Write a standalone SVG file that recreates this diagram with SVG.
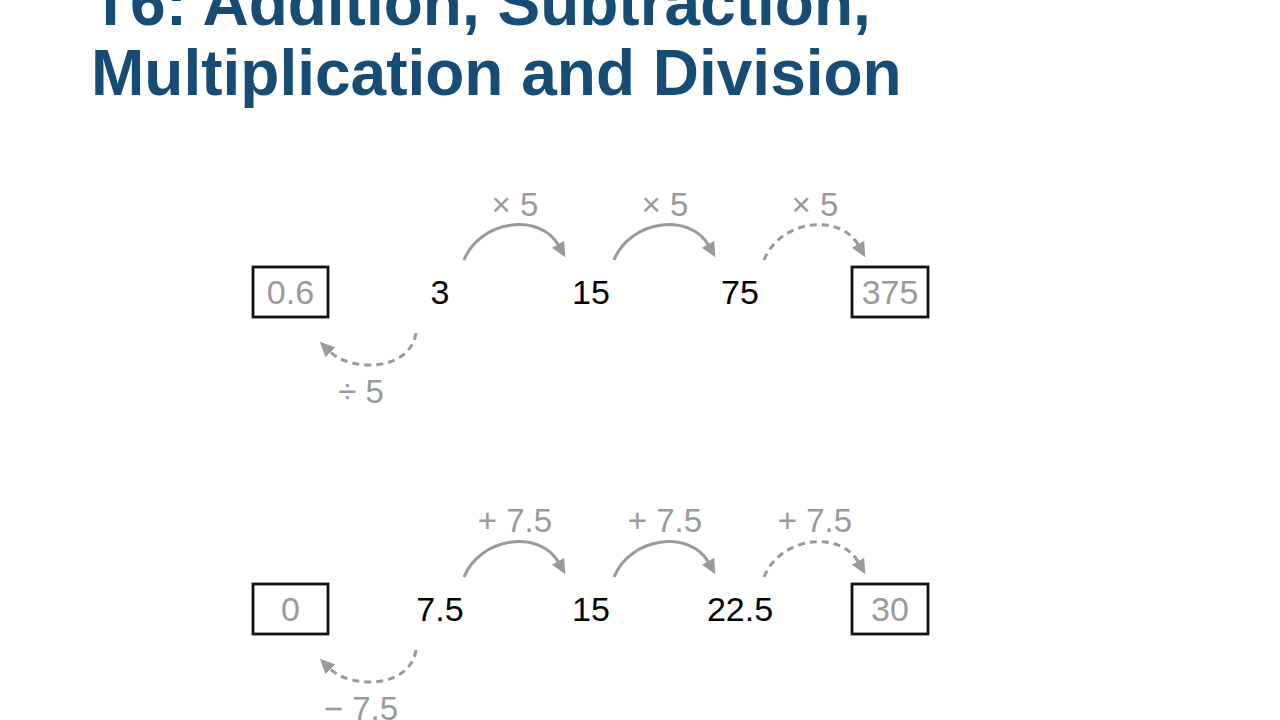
<svg xmlns="http://www.w3.org/2000/svg" width="1280" height="720" viewBox="0 0 1280 720">
<defs>
<style>
.title{font-family:"Liberation Sans",Arial,sans-serif;font-weight:bold;font-size:64px;fill:#174c74}
.num{font-family:"Liberation Sans",Arial,sans-serif;font-size:34px;fill:#000;text-anchor:middle}
.ans{font-family:"Liberation Sans",Arial,sans-serif;font-size:34px;fill:#9a9a9a;text-anchor:middle}
.lbl{font-family:"Liberation Sans",Arial,sans-serif;font-size:33px;fill:#9a9a9a;text-anchor:middle}
.box{fill:#fff;stroke:#111;stroke-width:2.8}
.arc{fill:none;stroke:#9a9a9a;stroke-width:3;marker-end:url(#ah)}
.dash{stroke-dasharray:7 5}
</style>
<marker id="ah" markerUnits="userSpaceOnUse" markerWidth="16" markerHeight="16" refX="2" refY="8" orient="auto">
<path d="M0,1 L15,8 L0,15 Z" fill="#9a9a9a"/>
</marker>
</defs>
<rect width="1280" height="720" fill="#fff"/>
<g id="title">
<text class="title" x="91" y="25">T6: Addition, Subtraction,</text>
<text class="title" x="91" y="95">Multiplication and Division</text>
</g>
<g id="connectors">
<path class="arc" d="M464 260 C480 220 540 212 559 246"/>
<path class="arc" d="M614 260 C630 220 690 212 709 246"/>
<path class="arc dash" d="M764 260 C780 220 840 212 859 246"/>
<path class="arc dash" d="M416 333 C410 372 350 372 329 351"/>
<path class="arc" d="M464 577 C480 537 540 529 559 563"/>
<path class="arc" d="M614 577 C630 537 690 529 709 563"/>
<path class="arc dash" d="M764 577 C780 537 840 529 859 563"/>
<path class="arc dash" d="M416 650 C410 689 350 689 329 668"/>
</g>
<g id="labels">
<text class="lbl" x="515" y="216">× 5</text>
<text class="lbl" x="665" y="216">× 5</text>
<text class="lbl" x="815" y="216">× 5</text>
<text class="lbl" x="361" y="403">÷ 5</text>
<text class="lbl" x="515" y="532">+ 7.5</text>
<text class="lbl" x="665" y="532">+ 7.5</text>
<text class="lbl" x="815" y="532">+ 7.5</text>
<text class="lbl" x="361" y="720">− 7.5</text>
</g>
<g id="n-0-6"><rect class="box" x="253" y="267" width="75" height="50"/><text class="ans" x="290.5" y="304">0.6</text></g>
<g id="n-3"><text class="num" x="440" y="304">3</text></g>
<g id="n-15a"><text class="num" x="591" y="304">15</text></g>
<g id="n-75"><text class="num" x="740" y="304">75</text></g>
<g id="n-375"><rect class="box" x="852" y="267" width="76" height="50"/><text class="ans" x="890" y="304">375</text></g>
<g id="n-0"><rect class="box" x="253" y="584" width="75" height="50"/><text class="ans" x="290.5" y="621">0</text></g>
<g id="n-7-5"><text class="num" x="440" y="621">7.5</text></g>
<g id="n-15b"><text class="num" x="591" y="621">15</text></g>
<g id="n-22-5"><text class="num" x="740" y="621">22.5</text></g>
<g id="n-30"><rect class="box" x="852" y="584" width="76" height="50"/><text class="ans" x="890" y="621">30</text></g>
</svg>
